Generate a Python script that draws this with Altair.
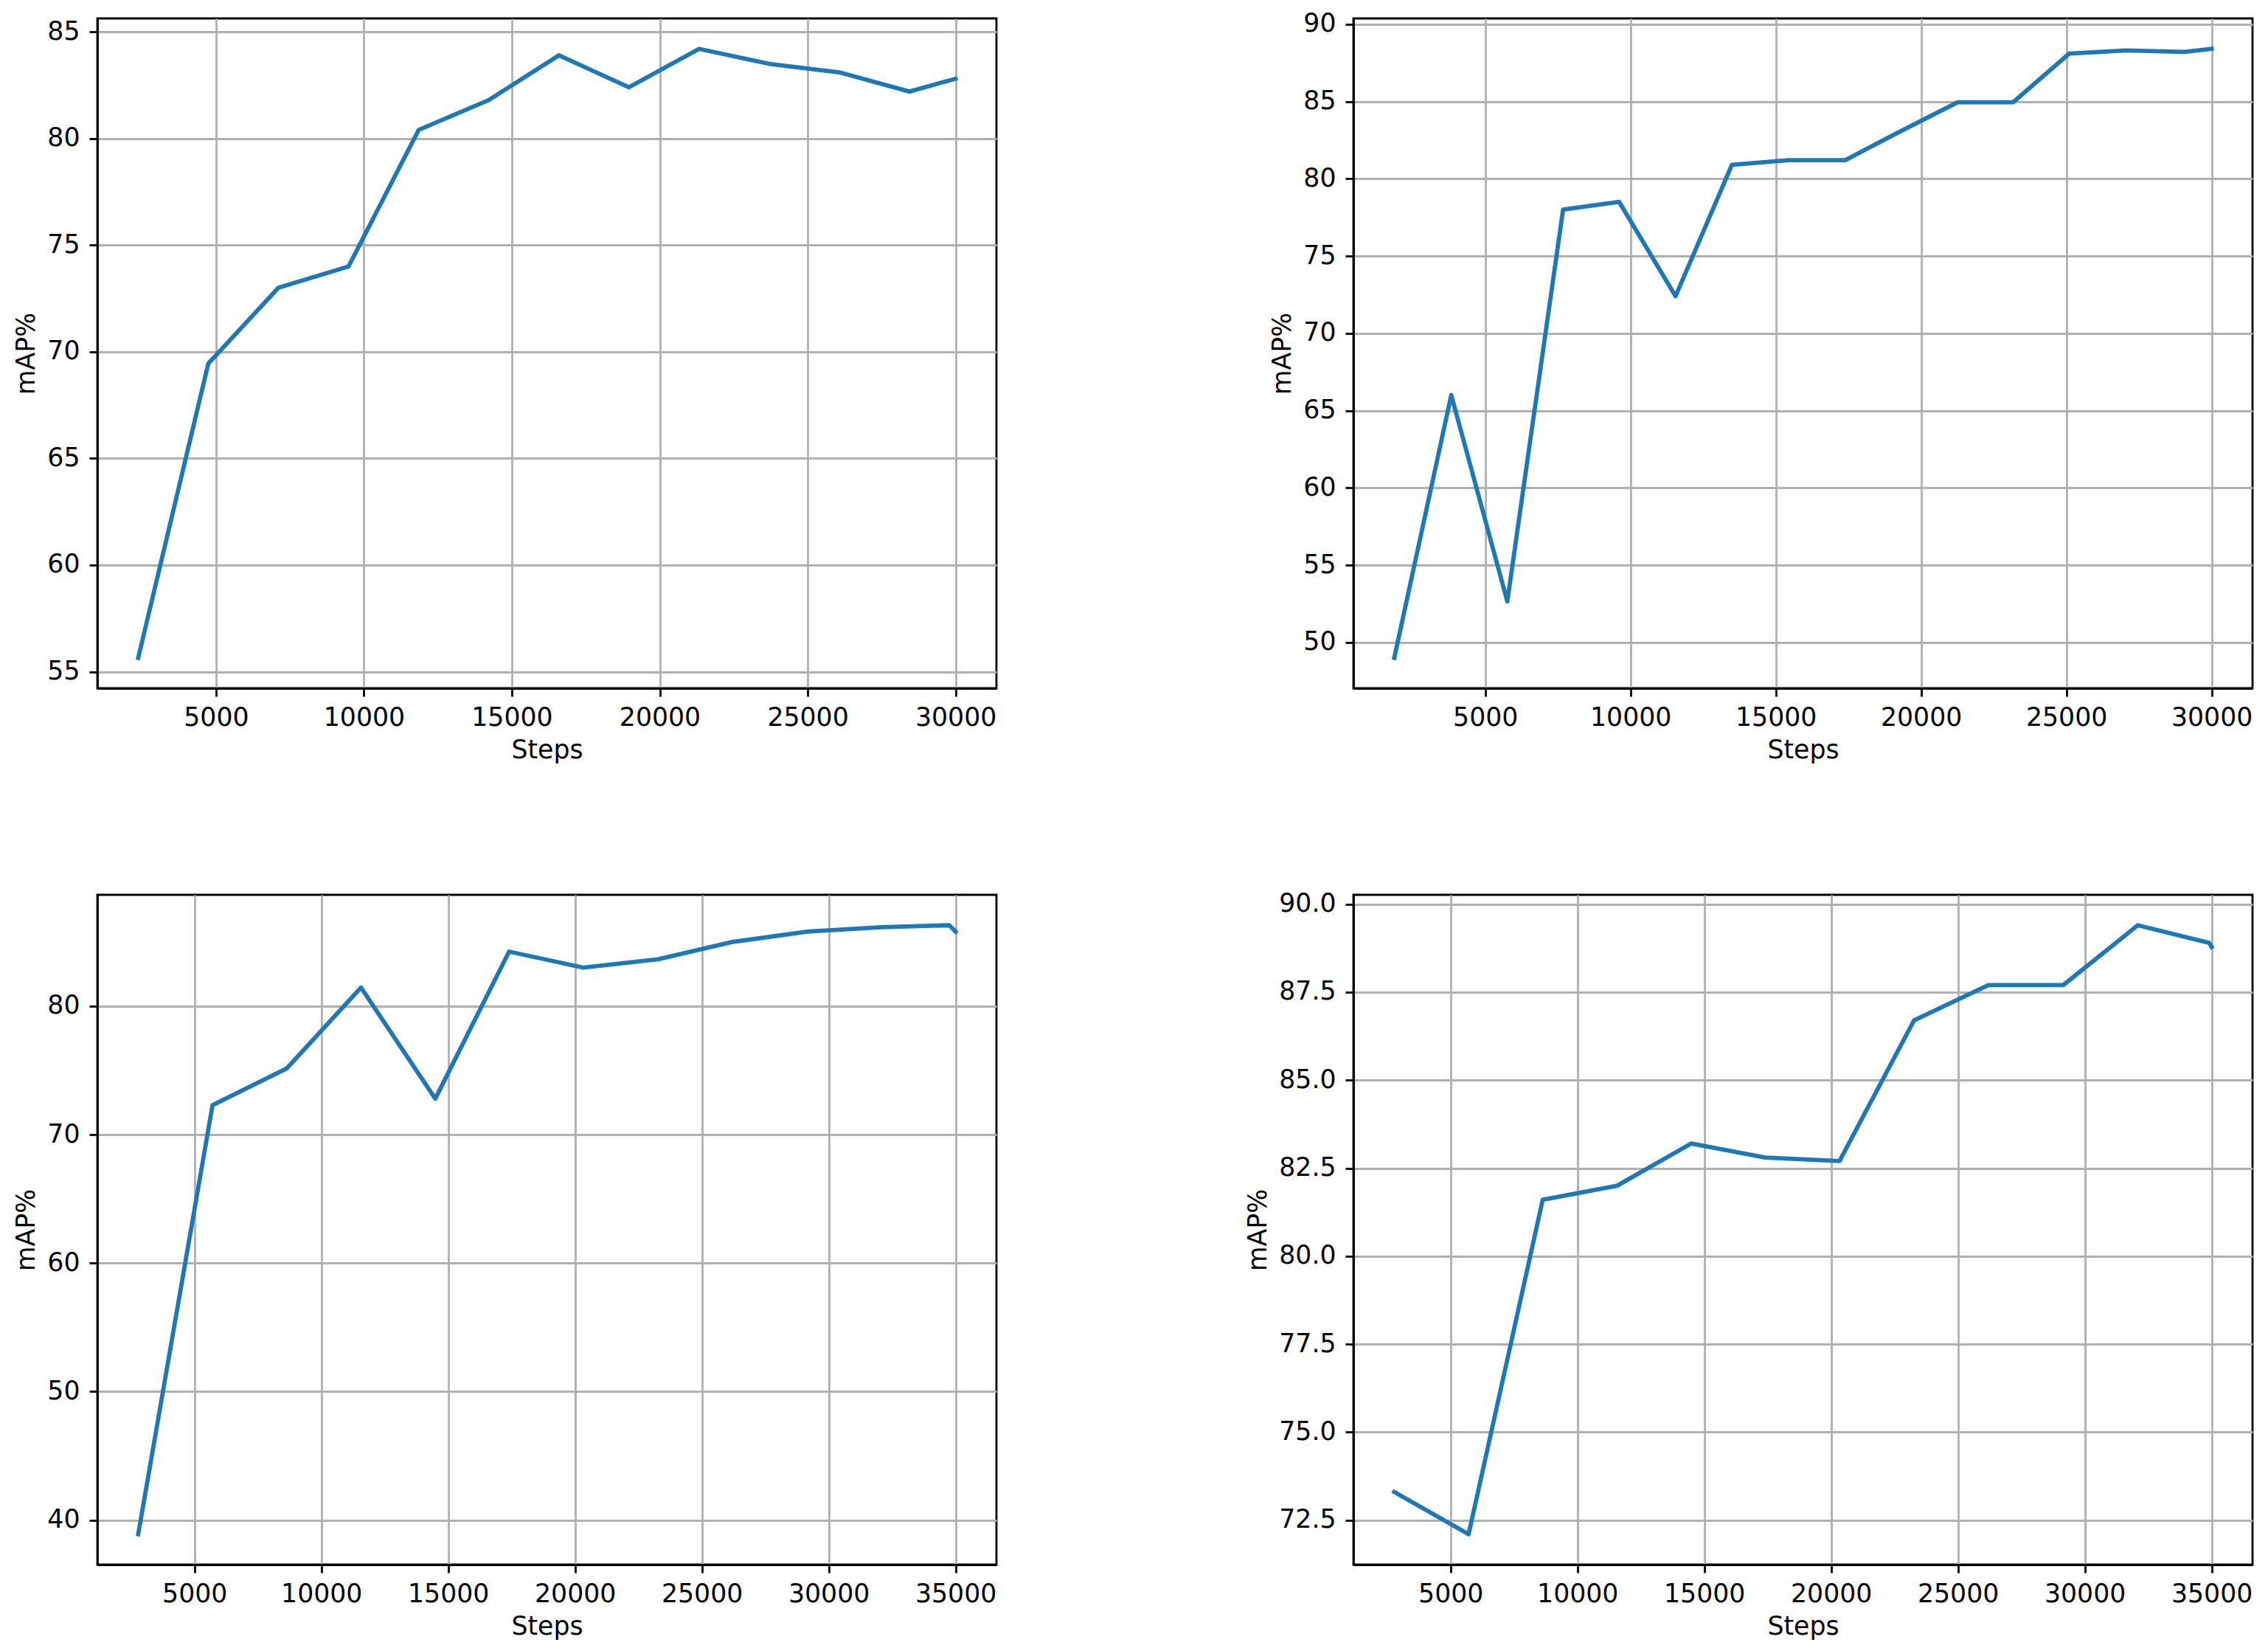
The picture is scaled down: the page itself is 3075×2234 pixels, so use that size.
import altair as alt
import pandas as pd

# ---- data ----
tl_steps = [2370, 4740, 7110, 9480, 11850, 14220, 16590, 18960, 21330, 23700, 26070, 28440, 30000]
tl_map = [55.65, 69.45, 73.0, 74.0, 80.4, 81.8, 83.9, 82.4, 84.2, 83.5, 83.1, 82.2, 82.8]

tr_steps = [1870, 3830, 5760, 7680, 9610, 11550, 13490, 15450, 17390, 19320, 21260, 23170, 25100, 27060, 29060, 30000]
tr_map = [49.0, 66.0, 52.65, 78.0, 78.5, 72.4, 80.9, 81.2, 81.2, 83.1, 84.95, 84.95, 88.1, 88.3, 88.2, 88.4]

bl_steps = [2780, 5710, 8630, 11560, 14490, 17400, 20330, 23270, 26200, 29150, 32090, 34750, 35000]
bl_map = [38.9, 72.3, 75.15, 81.45, 72.8, 84.25, 83.0, 83.65, 85.0, 85.8, 86.15, 86.3, 85.8]

br_steps = [2780, 5710, 8630, 11560, 14490, 17400, 20330, 23270, 26200, 29150, 32090, 34900, 35000]
br_map = [73.3, 72.1, 81.6, 82.0, 83.2, 82.8, 82.7, 86.7, 87.7, 87.7, 89.4, 88.9, 88.78]

x_ticks_30k = [5000, 10000, 15000, 20000, 25000, 30000]
x_ticks_35k = [5000, 10000, 15000, 20000, 25000, 30000, 35000]
tl_yticks = [55, 60, 65, 70, 75, 80, 85]
tr_yticks = [50, 55, 60, 65, 70, 75, 80, 85, 90]
bl_yticks = [40, 50, 60, 70, 80]
br_yticks = [72.5, 75.0, 77.5, 80.0, 82.5, 85.0, 87.5, 90.0]

W, H = 1219, 908


def margin_domain(vals, frac=0.05):
    lo, hi = min(vals), max(vals)
    p = (hi - lo) * frac
    return [lo - p, hi + p]


def panel(xs, ys, xticks, yticks, yfmt):
    df = pd.DataFrame({"Steps": xs, "mAP": ys})
    return (
        alt.Chart(df)
        .mark_line(color="#1f77b4", strokeWidth=5.8, strokeCap="square", strokeJoin="round")
        .encode(
            x=alt.X(
                "Steps:Q",
                scale=alt.Scale(domain=margin_domain(xs), nice=False, zero=False),
                axis=alt.Axis(values=xticks, format="d", title="Steps"),
            ),
            y=alt.Y(
                "mAP:Q",
                scale=alt.Scale(domain=margin_domain(ys), nice=False, zero=False),
                axis=alt.Axis(values=yticks, format=yfmt, title="mAP%"),
            ),
        )
        .properties(width=W, height=H)
    )


chart = alt.concat(
    panel(tl_steps, tl_map, x_ticks_30k, tl_yticks, "d"),
    panel(tr_steps, tr_map, x_ticks_30k, tr_yticks, "d"),
    panel(bl_steps, bl_map, x_ticks_35k, bl_yticks, "d"),
    panel(br_steps, br_map, x_ticks_35k, br_yticks, ".1f"),
    columns=2,
    spacing={"row": 280, "column": 484},
    bounds="flush",
).properties(
    padding={"left": 9, "top": 5, "right": 10, "bottom": 10},
    background="white",
).configure_axis(
    labelFont="DejaVu Sans",
    labelFontSize=34.7,
    labelColor="black",
    titleFont="DejaVu Sans",
    titleFontSize=34.7,
    titleFontWeight="normal",
    titleColor="black",
    domainColor="black",
    domainWidth=2.8,
    tickColor="black",
    tickWidth=2.8,
    tickSize=11,
    gridColor="#b0b0b0",
    gridWidth=2.8,
    gridOpacity=1,
    labelFlush=False,
    labelOverlap=False,
).configure_axisX(
    labelPadding=12, titlePadding=11
).configure_axisY(
    labelPadding=13, titlePadding=10
).configure_view(
    stroke="black", strokeWidth=2.8
)

chart.save("out.html", embed_options={"renderer": "svg", "actions": False})
